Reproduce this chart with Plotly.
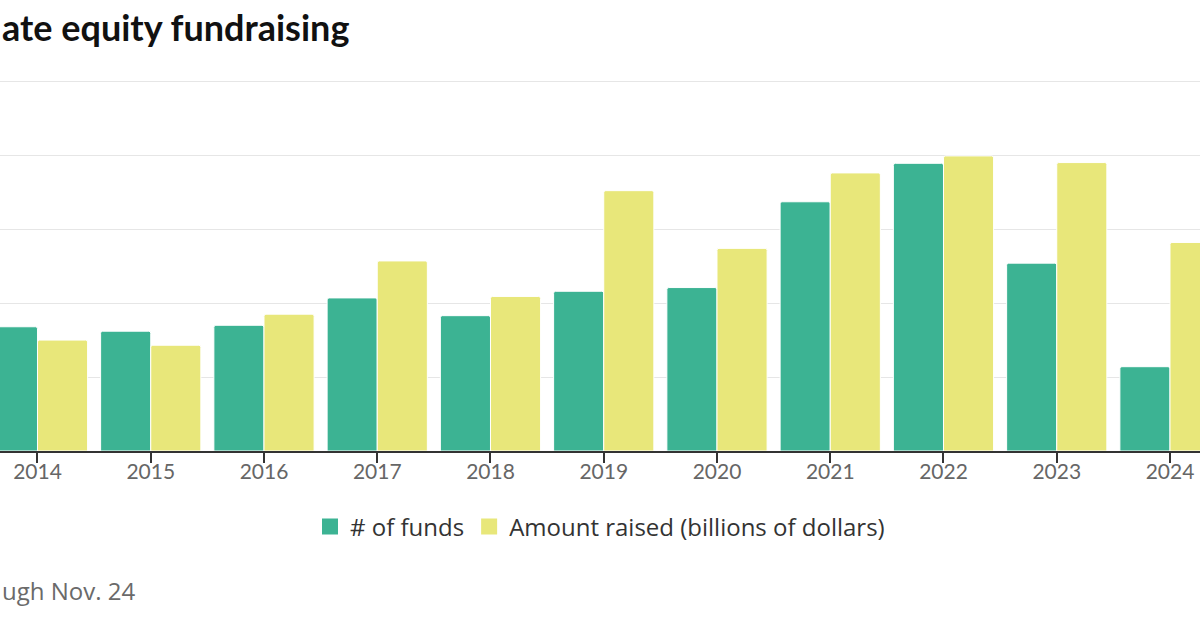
import plotly.graph_objects as go

years = ["2014", "2015", "2016", "2017", "2018", "2019", "2020", "2021", "2022", "2023", "2024"]
num_funds = [168, 162, 170, 207, 183, 216, 221, 337, 389, 254, 114]
amount_raised = [150, 143, 185, 257, 209, 352, 274, 376, 399, 390, 282]
y_ticks = [0, 100, 200, 300, 400, 500]
series_names = ["# of funds", "Amount raised (billions of dollars)"]

title_text = "ate equity fundraising"
note_text = "ugh Nov. 24"

GREEN = "#3cb393"
YELLOW = "#e8e77a"
FONT = "Lato"
LEG_FONT = "Open Sans"

W, H = 1200, 630
TOP, BASE = 79, 451
PH = BASE - TOP


def py_to_paper(py):
    return (BASE - py) / PH


fig = go.Figure()
fig.add_trace(go.Bar(x=years, y=num_funds, name=series_names[0], showlegend=False,
                     marker=dict(color=GREEN, line=dict(color="white", width=1)),
                     hoverinfo="skip"))
fig.add_trace(go.Bar(x=years, y=amount_raised, name=series_names[1], showlegend=False,
                     marker=dict(color=YELLOW, line=dict(color="white", width=1)),
                     hoverinfo="skip"))
# legend entries with larger square swatches
for nm, col in zip(series_names, [GREEN, YELLOW]):
    fig.add_trace(go.Scatter(x=[None], y=[None], mode="markers", name=nm,
                             marker=dict(symbol="square", size=18, color=col),
                             hoverinfo="skip"))

fig.update_layout(
    width=W, height=H,
    margin=dict(l=0, r=0, t=TOP, b=H - BASE),
    paper_bgcolor="white", plot_bgcolor="white",
    barmode="group", bargap=0.115, bargroupgap=0.0,
    barcornerradius=2,
    font=dict(family=FONT, color="#333"),
    showlegend=True,
    legend=dict(orientation="h", x=0.5, xanchor="center", y=1 - 527 / H,
                yref="container", yanchor="middle",
                font=dict(size=24, color="#333", family=LEG_FONT),
                itemsizing="trace", traceorder="normal"),
    xaxis=dict(type="category", range=[-0.331, 10.265], showline=True, linecolor="#333", linewidth=1.5,
               ticks="outside", ticklen=10, tickcolor="#333", tickwidth=1.5,
               ticklabelstandoff=-9,
               tickfont=dict(size=21, color="#666", family=FONT), showgrid=False),
    yaxis=dict(range=[0, 503], tickvals=y_ticks, showticklabels=False, showgrid=True,
               gridcolor="#e6e6e6", gridwidth=1, zeroline=False, fixedrange=True),
    annotations=[
        dict(text="<b>" + title_text + "</b>", xref="paper", yref="paper",
             x=0, xanchor="left", y=py_to_paper(27), yanchor="middle",
             showarrow=False, font=dict(size=36, color="#111", family=FONT)),
        dict(text=note_text, xref="paper", yref="paper",
             x=0, xanchor="left", y=py_to_paper(590), yanchor="middle",
             showarrow=False, font=dict(size=24, color="#6a6a6a", family=LEG_FONT)),
    ],
)

fig.write_html("out.html", config={"displayModeBar": False},
               post_script="document.body.style.margin='0';")
